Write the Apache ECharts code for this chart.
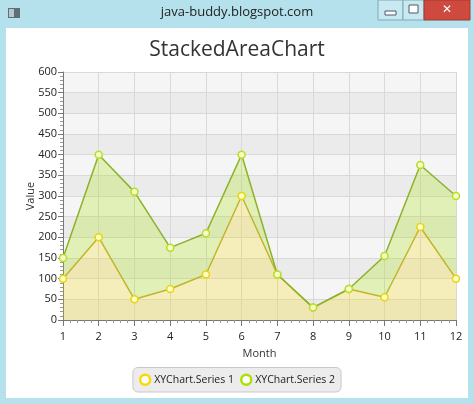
<!DOCTYPE html>
<html>
<head>
<meta charset="utf-8">
<script src="https://cdn.jsdelivr.net/npm/echarts@6/dist/echarts.min.js"></script>
<style>
  html, body { margin: 0; padding: 0; }
  body { width: 474px; height: 404px; background: #b4e1ec; position: relative; overflow: hidden; }
  .client { position: absolute; left: 6px; top: 28px; width: 462px; height: 370px; background: #ffffff; }
  #chart { position: absolute; left: 0; top: 0; width: 474px; height: 404px; }
</style>
</head>
<body>
<div class="client"></div>
<div id="chart"></div>
<script>
// chart data
const months = ['1', '2', '3', '4', '5', '6', '7', '8', '9', '10', '11', '12']
const series1 = [100, 200, 50, 75, 110, 300, 110, 30, 75, 55, 225, 100]
const series2 = [50, 200, 260, 100, 100, 100, 0, 0, 0, 100, 150, 200]
const seriesNames = ['XYChart.Series 1', 'XYChart.Series 2']

const FONT = '"Open Sans", "Noto Sans", sans-serif'
const yellow = '#f9d900'
const green = '#a9e200'

const chart = echarts.init(document.getElementById('chart'))

const option = {
  animation: false,
  textStyle: { fontFamily: FONT },
  title: {
    text: 'StackedAreaChart',
    left: 'center',
    top: 35,
    textStyle: { fontFamily: FONT, fontSize: 21, fontWeight: 'normal', color: '#333' }
  },
  graphic: [
    // window title bar
    { type: 'rect', shape: { x: 8, y: 8, width: 12, height: 10 }, style: { fill: '#5f6f78' } },
    { type: 'rect', shape: { x: 9, y: 9, width: 5, height: 8 }, style: { fill: '#b8c6cc' } },
    {
      type: 'text', left: 'center', top: 6,
      style: { text: 'java-buddy.blogspot.com', font: '13px ' + FONT, fill: '#222' }
    },
    { type: 'rect', shape: { x: 378, y: 0, width: 25, height: 20 }, style: { fill: '#c8e9f1', stroke: '#7fa9b6', lineWidth: 1 } },
    { type: 'rect', shape: { x: 385, y: 11, width: 11, height: 4 }, style: { fill: '#fff', stroke: '#4a5a66', lineWidth: 1 } },
    { type: 'rect', shape: { x: 403, y: 0, width: 21, height: 20 }, style: { fill: '#c8e9f1', stroke: '#7fa9b6', lineWidth: 1 } },
    { type: 'rect', shape: { x: 409, y: 5, width: 9, height: 8 }, style: { fill: '#fff', stroke: '#4a5a66', lineWidth: 1 } },
    { type: 'rect', shape: { x: 424, y: 0, width: 46, height: 20 }, style: { fill: '#cf4a3e', stroke: '#9c3a30', lineWidth: 1 } },
    {
      type: 'text', x: 447, y: 10,
      style: { text: '✕', font: 'bold 12px "DejaVu Sans"', fill: '#fff', align: 'center', verticalAlign: 'middle' }
    }
  ],
  legend: {
    bottom: 12,
    left: 'center',
    itemWidth: 10,
    itemHeight: 10,
    itemGap: 6,
    padding: [6, 6, 6, 6],
    backgroundColor: '#ececec',
    borderColor: '#c8c8c8',
    borderWidth: 1,
    borderRadius: 5,
    textStyle: { fontFamily: FONT, fontSize: 10.5, color: '#222', padding: [0, 0, 0, -1] },
    data: [
      { name: seriesNames[0], icon: 'circle', itemStyle: { color: '#fff', borderColor: yellow, borderWidth: 2.5 } },
      { name: seriesNames[1], icon: 'circle', itemStyle: { color: '#fff', borderColor: green, borderWidth: 2.5 } }
    ]
  },
  grid: { left: 63, right: 18, top: 72, bottom: 84 },
  xAxis: [
    {
      type: 'category',
      data: months,
      boundaryGap: false,
      name: 'Month',
      nameLocation: 'middle',
      nameGap: 28,
      nameTextStyle: { fontFamily: FONT, fontSize: 11, color: '#333' },
      axisLine: { lineStyle: { color: '#777' } },
      axisTick: { length: 6, alignWithLabel: true, lineStyle: { color: '#777' } },
      axisLabel: { fontFamily: FONT, fontSize: 11, color: '#222', margin: 11 },
      splitLine: { show: true, lineStyle: { color: '#d9d9d9' } }
    },
    {
      // hidden twin axis, only for the minor ticks between months
      type: 'value',
      position: 'bottom',
      min: 1,
      max: 12,
      interval: 1,
      axisLine: { show: false },
      axisTick: { show: false },
      axisLabel: { show: false },
      splitLine: { show: false },
      minorTick: { show: true, splitNumber: 5, length: 3, lineStyle: { color: '#999' } }
    }
  ],
  yAxis: {
    type: 'value',
    min: 0,
    max: 600,
    interval: 50,
    name: 'Value',
    nameLocation: 'middle',
    nameGap: 27,
    nameMoveOverlap: false,
    nameTextStyle: { fontFamily: FONT, fontSize: 11, color: '#333' },
    axisLine: { show: true, lineStyle: { color: '#777' } },
    axisTick: { show: true, length: 5, lineStyle: { color: '#777' } },
    minorTick: { show: true, splitNumber: 5, length: 3, lineStyle: { color: '#999' } },
    axisLabel: { fontFamily: FONT, fontSize: 11, color: '#222', margin: 6 },
    splitLine: { show: true, lineStyle: { color: '#d9d9d9' } },
    splitArea: { show: true, areaStyle: { color: ['#ebebeb', '#f5f5f5'] } }
  },
  series: [
    {
      name: seriesNames[0],
      type: 'line',
      stack: 'total',
      data: series1,
      symbol: 'circle',
      symbolSize: 7,
      lineStyle: { color: '#c2b42c', width: 1.5 },
      itemStyle: { color: '#ffffc0', borderColor: '#e6d418', borderWidth: 1.5 },
      areaStyle: { color: 'rgba(249, 217, 0, 0.34)' }
    },
    {
      name: seriesNames[1],
      type: 'line',
      stack: 'total',
      data: series2,
      symbol: 'circle',
      symbolSize: 7,
      lineStyle: { color: '#8cb22a', width: 1.5 },
      itemStyle: { color: '#f2ffc8', borderColor: '#bcdc28', borderWidth: 1.5 },
      areaStyle: { color: 'rgba(169, 226, 0, 0.36)' }
    }
  ]
}

chart.setOption(option)
</script>
</body>
</html>
